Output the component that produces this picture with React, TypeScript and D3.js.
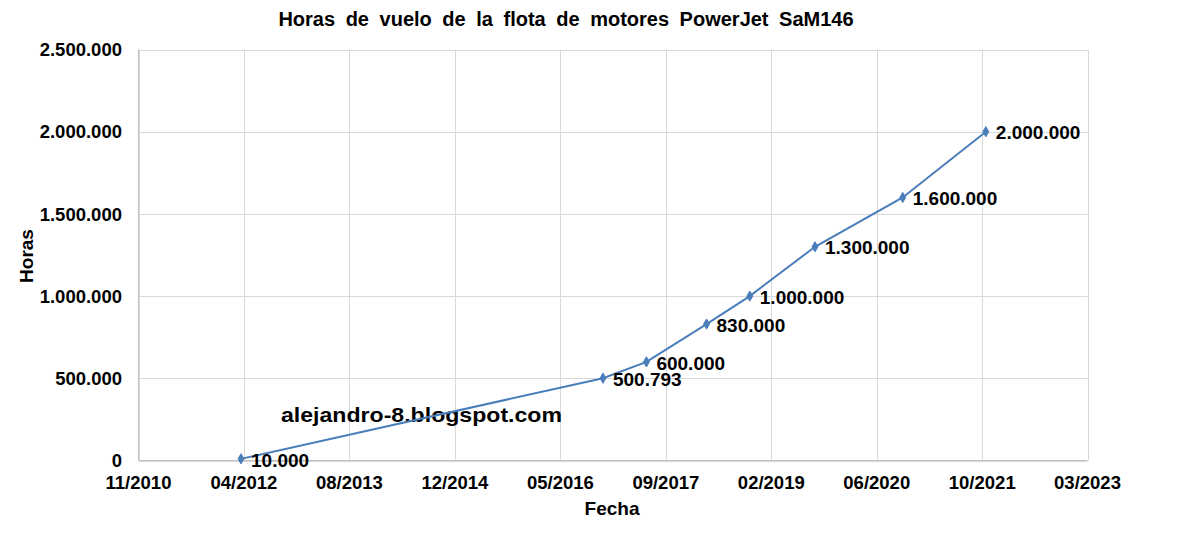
import React from "react";
import * as d3 from "d3";

const pointDates = ["2012-03-18", "2016-11-28", "2017-06-22", "2018-04-03", "2018-10-25", "2019-08-30", "2020-10-19", "2021-11-17"];
const flightHours = [10000, 500793, 600000, 830000, 1000000, 1300000, 1600000, 2000000];
const xTickDates = ["2010-11-18", "2012-04-01", "2013-08-14", "2014-12-27", "2016-05-10", "2017-09-22", "2019-02-04", "2020-06-18", "2021-10-31", "2023-03-14"];
const xTickLabels = ["11/2010", "04/2012", "08/2013", "12/2014", "05/2016", "09/2017", "02/2019", "06/2020", "10/2021", "03/2023"];
const yTicks = [0, 500000, 1000000, 1500000, 2000000, 2500000];

const titleText = "Horas de vuelo de la flota de motores PowerJet SaM146";
const xTitle = "Fecha";
const yTitle = "Horas";
const watermark = "alejandro-8.blogspot.com";

const W = 1197;
const H = 560;
const left = 138.5;
const right = 1087.5;
const top = 49.5;
const bottom = 460.5;

const parse = d3.utcParse("%Y-%m-%d");
const fmt = (v: number) => (v === 0 ? "0" : d3.format(",")(v).replace(/,/g, "."));

export default function App() {
  const x = d3
    .scaleUtc()
    .domain([parse(xTickDates[0])!, parse(xTickDates[xTickDates.length - 1])!])
    .range([left, right]);
  const y = d3.scaleLinear().domain([0, 2500000]).range([bottom, top]);

  const pts = pointDates.map((d, i) => ({ x: x(parse(d)!), y: y(flightHours[i]), v: flightHours[i] }));
  const line = d3
    .line<{ x: number; y: number }>()
    .x((d) => d.x)
    .y((d) => d.y);

  const font = "'Liberation Sans', Arial, sans-serif";
  const diamond = d3.symbol().type(d3.symbolDiamond).size(30)();

  return (
    <div style={{ position: "absolute", left: 0, top: 0, width: W, height: H, background: "#fff" }}>
      <svg width={W} height={H} style={{ display: "block" }} fontFamily={font}>
        <rect x={0} y={0} width={W} height={H} fill="#fff" />
        <text x={566} y={26} textAnchor="middle" fontWeight="bold" fontSize={20} wordSpacing={5} fill="#000">
          {titleText}
        </text>
        {/* horizontal gridlines */}
        {yTicks.map((t) => (
          <line key={"gy" + t} x1={left} x2={right} y1={Math.round(y(t)) + 0.5} y2={Math.round(y(t)) + 0.5} stroke="#d9d9d9" strokeWidth={1} />
        ))}
        {/* vertical gridlines */}
        {xTickDates.map((d) => {
          const xx = Math.round(x(parse(d)!)) + 0.5;
          return <line key={"gx" + d} x1={xx} x2={xx} y1={top} y2={bottom} stroke="#d9d9d9" strokeWidth={1} />;
        })}
        {/* axes */}
        <line x1={left} x2={left} y1={top} y2={bottom} stroke="#bfbfbf" strokeWidth={1} />
        <line x1={left} x2={right} y1={bottom} y2={bottom} stroke="#bfbfbf" strokeWidth={1} />
        {/* y tick labels */}
        {yTicks.map((t) => (
          <text key={"ty" + t} x={122} y={y(t)} dy="0.36em" textAnchor="end" fontWeight="bold" fontSize={18.5} fill="#000">
            {fmt(t)}
          </text>
        ))}
        {/* x tick labels */}
        {xTickDates.map((d, i) => (
          <text key={"tx" + d} x={x(parse(d)!)} y={489} textAnchor="middle" fontWeight="bold" fontSize={18.5} fill="#000">
            {xTickLabels[i]}
          </text>
        ))}
        {/* axis titles */}
        <text x={612} y={515} textAnchor="middle" fontWeight="bold" fontSize={19} fill="#000">
          {xTitle}
        </text>
        <text transform="translate(33,256) rotate(-90)" textAnchor="middle" fontWeight="bold" fontSize={19} fill="#000">
          {yTitle}
        </text>
        {/* watermark */}
        <text x={281} y={422} fontWeight="bold" fontSize={21} fill="#000" textLength={281} lengthAdjust="spacingAndGlyphs">
          {watermark}
        </text>
        {/* series */}
        <path d={line(pts) || ""} fill="none" stroke="#4a7ebb" strokeWidth={2} />
        {pts.map((p, i) => (
          <path key={"m" + i} d={diamond || ""} transform={`translate(${p.x},${p.y})`} fill="#4a7ebb" stroke="#4a7ebb" />
        ))}
        {pts.map((p, i) => (
          <text key={"l" + i} x={p.x + 10} y={p.y + 1} dy="0.35em" fontWeight="bold" fontSize={19} fill="#000">
            {fmt(p.v)}
          </text>
        ))}
      </svg>
    </div>
  );
}
